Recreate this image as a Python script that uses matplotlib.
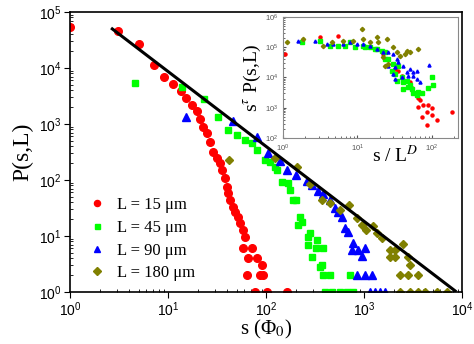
import matplotlib
matplotlib.use('Agg')
import matplotlib.pyplot as plt

plt.rcParams['font.family'] = ['Liberation Sans', 'DejaVu Sans']
plt.rcParams['mathtext.fontset'] = 'stix'

# main plot: P(s,L) for the four sizes
red_s = [1, 3.09, 5.06, 7.2, 9.1, 11.2, 13.6, 15.3, 17.6, 19.8, 21.2, 22.8, 25, 26.8, 28.8,
         31.6, 34, 35.6, 38.2, 40, 41, 43, 46, 48.3, 51.8, 54.3, 58.3, 61, 58.3, 72, 65.5,
         81, 91, 64, 87, 93, 77, 102, 164]
red_p = [54000, 46000, 27000, 11200, 6900, 5200, 3900, 2900, 2200, 1700, 1230, 890, 690, 480, 316,
         247, 200, 151, 109, 75, 59, 44, 33, 27, 22, 17, 12.8, 9.6, 6.1, 6.1, 4,
         4, 3, 2, 2, 2, 1, 1, 1]

green_s = [4.6, 13.9, 23.3, 32.4, 41, 50.6, 61, 72, 81, 98, 110, 124, 129, 146, 168, 176, 189,
           202, 222, 233, 212, 281, 268, 331, 268, 324, 382, 295, 356, 373, 382, 450, 720,
           400, 471, 569, 671, 772]
green_p = [5400, 4580, 2800, 1330, 780, 637, 518, 458, 343, 228, 210, 171, 151, 92, 88, 66, 44,
           44, 22, 18, 16, 11.3, 9.6, 8.5, 6.9, 6.1, 6.1, 4.2, 2.8, 3, 2, 2, 2,
           1, 1, 1, 1, 1]

blue_s = [15.3, 46, 81, 105, 139, 164, 202, 262, 295, 340, 382, 450, 506, 543, 597, 640, 687,
          772, 755, 869, 1023, 955, 849, 1023, 1208, 1151, 1294, 1455, 1637]
blue_p = [1330, 1130, 586, 303, 218, 151, 123, 96, 81, 64, 56, 44, 32, 27, 22, 14, 12,
          7.5, 5.6, 5.6, 6.1, 4.4, 2, 2, 2, 1, 1, 1, 1]

olive_s = [41.9, 124, 207, 281, 373, 450, 569, 703, 849, 955, 1047, 1236, 1358, 1527, 1841,
           2071, 1841, 2071, 2500, 2812, 2946, 2329, 2812, 3556, 2329, 2946, 3556, 4190, 5560, 7030]
olive_p = [228, 247, 171, 85, 44, 39, 29, 36, 21, 16, 12.8, 15, 11.3, 9.2, 5.6,
           5.6, 4.2, 4.2, 7.2, 4.2, 3, 2, 2, 2, 1, 1, 1, 1, 1, 1]

# power-law guide line (end points)
fit_s = [2.7, 8500]
fit_p = [50000, 1.05]

# inset: s^tau P(s,L) vs s / L^D
in_red_x = [1.06, 3.14, 5.47, 12.6, 22, 31.9, 35, 39.6, 43.4, 50.7, 53.9, 59.2, 64.9, 69, 75.7,
            88.3, 64.9, 100, 85.7, 100, 73.4, 117, 85.7, 185]
in_red_y = [5.8e4, 2.15e5, 2.33e5, 1e5, 5.8e4, 1.85e4, 1.58e4, 1.08e4, 7.4e3, 6.8e3, 4.6e3, 3.16e3,
            2.15e3, 1.85e3, 1.26e3, 1.26e3, 1.08e3, 1e3, 740, 580, 500, 400, 270, 740]
in_green_x = [1.8, 3.14, 4.27, 5.47, 6.79, 7.93, 9.25, 11.9, 12.6, 14.7, 17.2, 18.3, 21.3, 23.4,
              23.4, 25.7, 30, 29, 35, 31.9, 33.9, 39.6, 40.8, 46.2, 50.7, 53.9, 55.6, 62.9,
              64.9, 73.4, 88.3, 103, 100, 40.8, 47.6]
in_green_y = [1.47e5, 1.58e5, 1.08e5, 1.08e5, 1.08e5, 1.47e5, 1e5, 1.08e5, 1e5, 1e5, 8.6e4, 8.6e4,
              7.4e4, 6.8e4, 4e4, 4e4, 2.7e4, 1.58e4, 2.33e4, 1.26e4, 7.4e3, 1e4, 6.8e3, 7.4e3,
              5.8e3, 4e3, 3.16e3, 2.7e3, 3.4e3, 3.16e3, 4.6e3, 5.8e3, 1e4, 4e3, 5e3]
in_blue_x = [1.59, 2.69, 3.9, 4.69, 6.38, 7.93, 9.85, 11.9, 14.7, 18.3, 22, 25.7, 30, 33.9, 35,
             31.9, 40.8, 46.2, 50.7, 55.6, 62.9, 69, 30, 31.9, 39.6, 47.6, 55.6, 62.9, 91.1, 25.7]
in_blue_y = [1.58e5, 1.58e5, 1.26e5, 1.26e5, 1.26e5, 1.47e5, 1.26e5, 1.26e5, 1.08e5, 8.6e4, 6.8e4,
             6.8e4, 5.8e4, 4e4, 3.16e4, 2.15e4, 2.33e4, 1.47e4, 1.85e4, 1.08e4, 8.6e3, 6.8e3,
             1.26e4, 8.6e3, 1e4, 1.08e4, 1.47e4, 1.58e4, 2.5e4, 2.33e4]
in_olive_x = [1.13, 1.85, 3.44, 4.55, 6.38, 8.7, 11.5, 11.9, 14.7, 18.3, 18.8, 24.9, 30, 33.9,
              46.2, 50.7, 64.9, 22, 25.7, 23.4, 37.2, 43.4]
in_olive_y = [1.47e5, 1.85e5, 1.08e5, 1.47e5, 1.58e5, 1.58e5, 4e5, 1.85e5, 1.47e5, 2.15e5, 1.47e5,
              1.85e5, 1e5, 6.8e4, 7.4e4, 6.8e4, 8.6e4, 4.6e4, 2.7e4, 2.33e4, 5e4, 5.8e4]

labels = ['L = 15 \u03bcm', 'L = 45 \u03bcm', 'L = 90 \u03bcm', 'L = 180 \u03bcm']
colors = ['#ff0000', '#00ff00', '#0000ff', '#808000']
markers = ['o', 's', '^', 'D']
sizes = [5.5, 4.5, 6, 4.5]

serif = 'Liberation Serif'

fig = plt.figure(figsize=(4.74, 3.44), dpi=100)
ax = fig.add_axes([0.1477, 0.151, 0.827, 0.814])

main_data = [(red_s, red_p), (green_s, green_p), (blue_s, blue_p), (olive_s, olive_p)]
for (xs, ys), c, m, ms, lab in zip(main_data, colors, markers, sizes, labels):
    ax.plot(xs, ys, linestyle='none', marker=m, ms=ms, color=c, mec=c, label=lab)
ax.plot(fit_s, fit_p, color='black', lw=2.2)

ax.set_xscale('log')
ax.set_yscale('log')
ax.set_xlim(1, 1e4)
ax.set_ylim(1, 1e5)
ax.tick_params(which='major', direction='out', length=4, labelsize=10, pad=2, top=False, right=False)
ax.tick_params(which='minor', direction='in', length=2.5, top=False, right=False)
for sp in ax.spines.values():
    sp.set_linewidth(1.2)
ax.set_xlabel('s (\u03a6$_0$)', fontfamily=serif, fontsize=15, labelpad=-1)
ax.set_ylabel('P(s,L)', fontfamily=serif, fontsize=17, labelpad=4)

leg = ax.legend(loc='lower left', bbox_to_anchor=(0.005, -0.015), frameon=False,
                prop={'family': serif, 'size': 12}, handletextpad=0.6,
                labelspacing=0.4, markerscale=0.8, handlelength=1.2)

# inset
ins = fig.add_axes([0.597, 0.599, 0.369, 0.352])
in_data = [(in_red_x, in_red_y), (in_green_x, in_green_y), (in_blue_x, in_blue_y), (in_olive_x, in_olive_y)]
for (xs, ys), c, m in zip(in_data, colors, markers):
    ins.plot(xs, ys, linestyle='none', marker=m, ms=2.2, color=c, mec=c)
ins.set_xscale('log')
ins.set_yscale('log')
ins.set_xlim(1, 223)
ins.set_ylim(1e2, 1e6)
for sp in ins.spines.values():
    sp.set_color('#888888')
    sp.set_linewidth(0.8)
ins.tick_params(which='both', direction='in', labelsize=5.5, colors='#555555', top=False, right=False)
ins.tick_params(which='major', length=2.5)
ins.tick_params(which='minor', length=1.5)
ins.set_ylabel('s$^{\\tau}$ P(s,L)', fontfamily=serif, fontsize=14, labelpad=1)
ins.set_xlabel('s / L$^{D}$', fontfamily=serif, fontsize=14)
ins.xaxis.set_label_coords(0.64, -0.06)

fig.savefig('out.png', dpi=100)
